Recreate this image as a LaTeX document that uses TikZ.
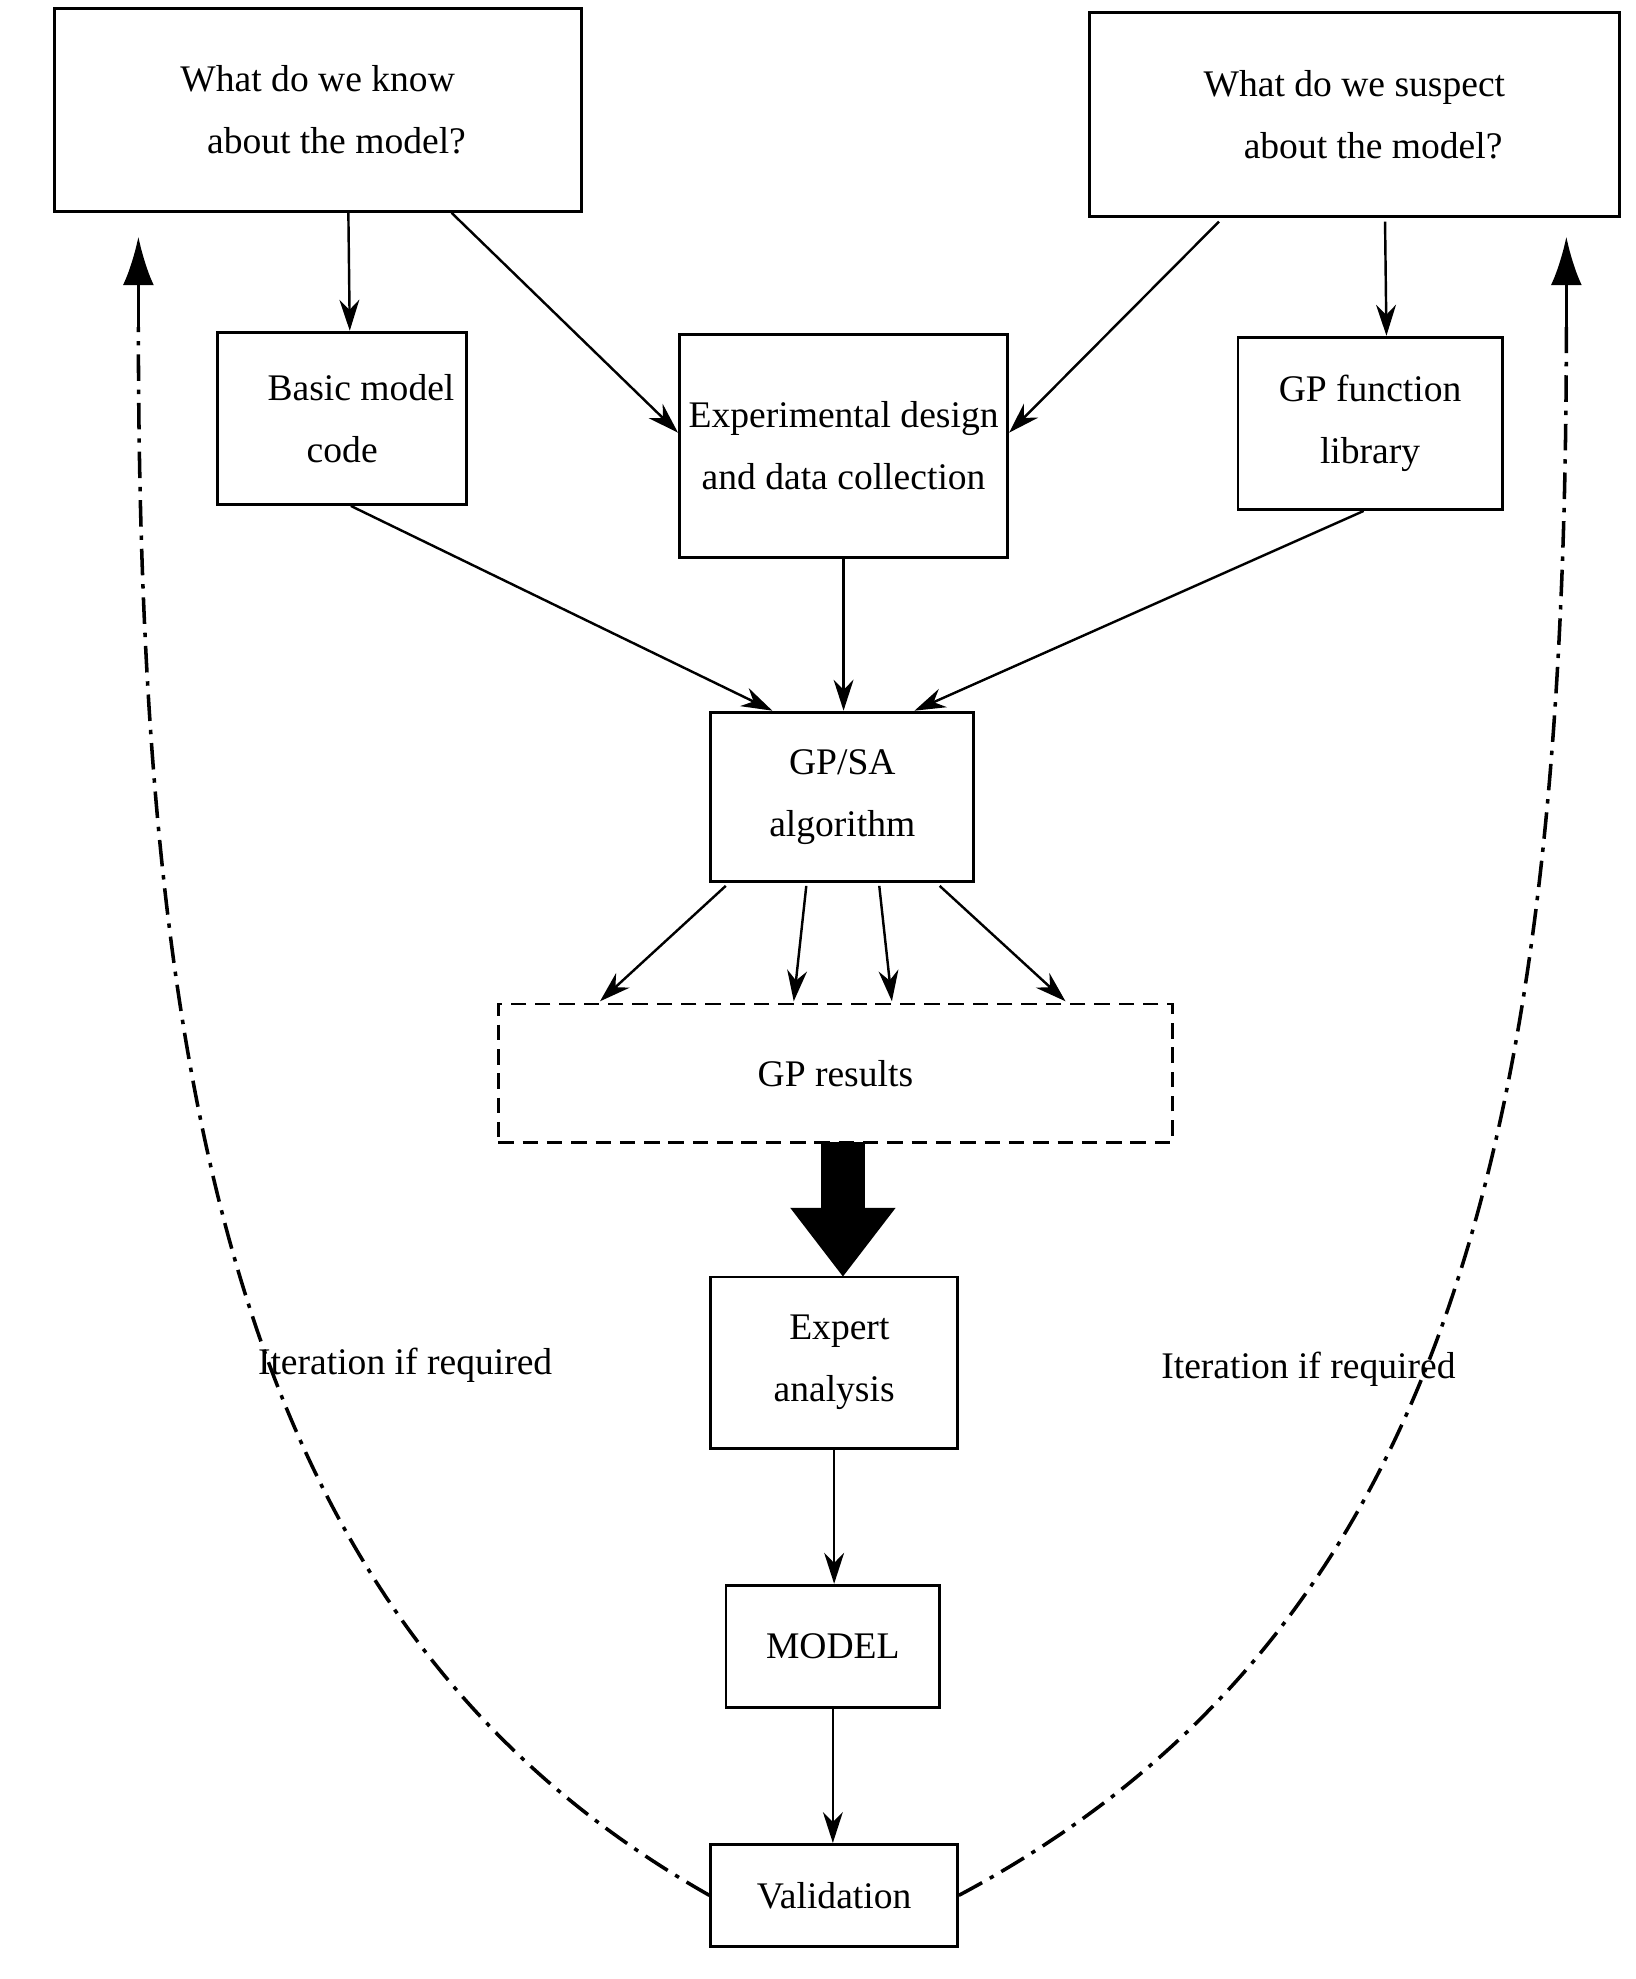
\documentclass[tikz,border=0pt]{standalone}
\usepackage{fontspec}
\setmainfont{Liberation Serif}
\usetikzlibrary{arrows.meta,calc}
\begin{document}
\begin{tikzpicture}[x=0.02cm,y=-0.02cm,
  box/.style={draw,line width=1.3pt,align=center,font=\fontsize{17}{28}\selectfont,inner sep=0pt},
  arr/.style={line width=1.1pt,-{Stealth[length=14pt,width=9pt]}},
  dd/.style={line width=1.6pt,dash pattern=on 12pt off 4pt on 2pt off 4pt},
  ddh/.style={-{Latex[length=22pt,width=14pt]}},
  lbl/.style={font=\fontsize{17}{22}\selectfont}]
\useasboundingbox (0,0) rectangle (1300,1573);
\node[box,minimum width=8.38cm,minimum height=3.22cm] (know) at (252.5,87.5) {What do we know\\\quad about the model?};
\node[box,minimum width=8.42cm,minimum height=3.24cm] (susp) at (1076.5,91) {What do we suspect\\\quad about the model?};
\node[box,minimum width=3.96cm,minimum height=2.74cm] (basic) at (272,332.5) {\quad Basic model\\code};
\node[box,minimum width=5.22cm,minimum height=3.54cm] (exp) at (670.5,354.5) {Experimental design\\and data collection};
\node[box,minimum width=4.2cm,minimum height=2.74cm] (gpfl) at (1089,336.5) {GP function\\library};
\node[box,minimum width=4.18cm,minimum height=2.7cm] (gpsa) at (669.5,633.5) {GP/SA\\algorithm};
\node[box,dash pattern=on 7pt off 4pt,minimum width=10.72cm,minimum height=2.2cm] (res) at (664,853) {GP results};
\node[box,minimum width=3.92cm,minimum height=2.72cm] (expert) at (663,1083) {\;Expert\\analysis};
\node[box,minimum width=3.4cm,minimum height=1.94cm] (model) at (662,1308.5) {MODEL};
\node[box,minimum width=3.92cm,minimum height=1.62cm] (valid) at (663,1506.5) {Validation};
\node[lbl] (it1) at (322,1085) {Iteration if required};
\node[lbl] (it2) at (1040,1088) {Iteration if required};

\draw[arr] ($(know.south west)+(235,0)$) -- (basic.north -| 278,0);
\draw[arr] ($(know.south west)+(317,0)$) -- ($(exp.north west)+(0,79)$);
\draw[arr] ($(susp.south west)+(104,3)$) -- ($(exp.north east)+(0,79)$);
\draw[arr] ($(susp.south west)+(236,3)$) -- (gpfl.north -| 1102,0);
\draw[arr] ($(basic.south west)+(107,0)$) -- ($(gpsa.north west)+(50,0)$);
\draw[arr] (exp.south) -- (exp.south |- gpsa.north);
\draw[arr] ($(gpfl.south west)+(101,0)$) -- ($(gpsa.north west)+(163,0)$);
\draw[arr] ($(gpsa.south west)+(13,2)$) -- ($(res.north west)+(82,-1)$);
\draw[arr] ($(gpsa.south west)+(77,2)$) -- ($(res.north west)+(236,-1)$);
\draw[arr] ($(gpsa.south west)+(135,2)$) -- ($(res.north west)+(314,-1)$);
\draw[arr] ($(gpsa.south west)+(183,2)$) -- ($(res.north west)+(452,-1)$);
\draw[line width=0.7cm,-{Triangle[length=1.1cm,width=1.6cm]}] (670,908) -- (670,1015);
\draw[arr] (expert.south) -- (expert.south |- model.north);
\draw[arr] (model.south) -- (model.south |- valid.north);
\coordinate (l) at (110,188);
\coordinate (r) at (1245,188);
\draw[dd] (valid.west) .. controls (200,1300) and (110,900) .. (110,260);
\draw[ddh,line width=1.6pt] (110,262) -- (l);
\draw[dd] (valid.east) .. controls (1150,1300) and (1245,900) .. (1245,260);
\draw[ddh,line width=1.6pt] (1245,262) -- (r);
\end{tikzpicture}
\end{document}
